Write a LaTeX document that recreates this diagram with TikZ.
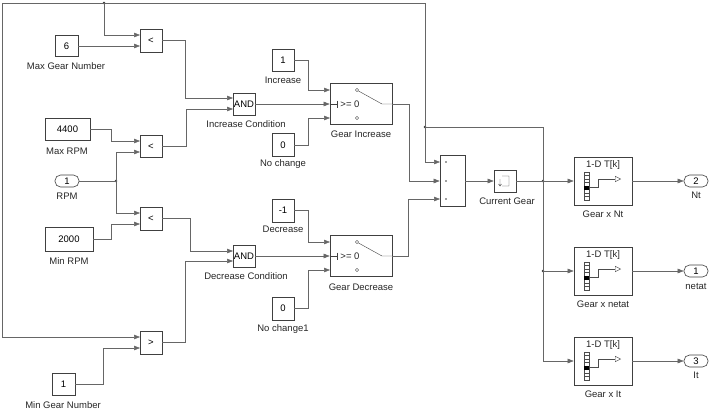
\documentclass[tikz,border=0pt]{standalone}
\usepackage{fontspec}
\setmainfont{Liberation Sans}
\usetikzlibrary{arrows.meta}
\tikzset{
	blk/.style = {draw=black!75, fill=white, inner sep=0pt, line width=0.6pt},
	port/.style = {blk, rounded corners=5.5pt, minimum width=24, minimum height=12},
	lbl/.style = {inner sep=0pt, text=black!85},
	wire/.style = {draw=black!60, line width=0.5pt},
	sig/.style = {wire, -{Triangle[length=6pt,width=4.5pt]}},
	jdot/.style = {circle, fill=black!80, inner sep=0pt, minimum size=2.6pt},
}
\begin{document}
\begin{tikzpicture}[x=1pt, y=-1pt, font=\fontsize{9.5}{11}\selectfont]
			\useasboundingbox (0,0) rectangle (709,410);
			% constants and inport
			\node[blk, minimum width=23, minimum height=21] (kMaxGear) at (66.5,46) {6};
			\node[lbl] (lMaxGear) at (66,66) {Max Gear Number};
			\node[blk, minimum width=45, minimum height=22] (kMaxRPM) at (67.5,129) {4400};
			\node[lbl] (lMaxRPM) at (67,151) {Max RPM};
			\node[port] (rpm) at (67,181) {1};
			\node[lbl] (lRpm) at (67,196) {RPM};
			\node[blk, minimum width=48, minimum height=24] (kMinRPM) at (69,239) {2000};
			\node[lbl] (lMinRPM) at (69,261) {Min RPM};
			\node[blk, minimum width=23, minimum height=22] (kMinGear) at (63.5,384) {1};
			\node[lbl] (lMinGear) at (63,405) {Min Gear Number};
			% relational operators
			\node[blk, minimum width=22, minimum height=23] (ltA) at (151,40.5) {<};
			\node[blk, minimum width=22, minimum height=22] (ltB) at (151,146.5) {<};
			\node[blk, minimum width=22, minimum height=23] (ltC) at (151,218.5) {<};
			\node[blk, minimum width=22, minimum height=23] (gtD) at (151,342.5) {>};
			\coordinate (ltA-in1) at (140,35); \coordinate (ltA-in2) at (140,46);
			\coordinate (ltB-in1) at (140,141); \coordinate (ltB-in2) at (140,152);
			\coordinate (ltC-in1) at (140,213); \coordinate (ltC-in2) at (140,224);
			\coordinate (gtD-in1) at (140,337); \coordinate (gtD-in2) at (140,348);
			% logic
			\node[blk, minimum width=22, minimum height=22] (andA) at (244,104) {AND};
			\node[lbl] (lAndA) at (246,124) {Increase Condition};
			\node[blk, minimum width=22, minimum height=22] (andB) at (244,256) {AND};
			\node[lbl] (lAndB) at (246,276) {Decrease Condition};
			\coordinate (andA-in1) at (233,98); \coordinate (andA-in2) at (233,109);
			\coordinate (andB-in1) at (233,251); \coordinate (andB-in2) at (233,261);
			% switch inputs
			\node[blk, minimum width=22, minimum height=22] (kInc) at (283,60) {1};
			\node[lbl] (lInc) at (283,80) {Increase};
			\node[blk, minimum width=22, minimum height=23] (kNoInc) at (283,145) {0};
			\node[lbl] (lNoInc) at (283,164) {No change};
			\node[blk, minimum width=22, minimum height=23] (kDec) at (283,210.5) {-1};
			\node[lbl] (lDec) at (283,229) {Decrease};
			\node[blk, minimum width=22, minimum height=23] (kNoDec) at (283,308.5) {0};
			\node[lbl] (lNoDec) at (283,329) {No change1};
			% switches
			\node[blk, minimum width=62, minimum height=41] (swInc) at (361,104) {};
			\node[lbl] (lSwInc) at (361,134) {Gear Increase};
			\node[blk, minimum width=62, minimum height=41] (swDec) at (361,256) {};
			\node[lbl] (lSwDec) at (361,287) {Gear Decrease};
			\coordinate (swInc-in1) at (330,90); \coordinate (swInc-in3) at (330,118);
			\coordinate (swDec-in1) at (330,242); \coordinate (swDec-in3) at (330,270);
			\foreach \s in {swInc,swDec} {
				\begin{scope}[shift={(\s.center)}]
					\draw[black!75] (-4,-14) circle (1.6) (-4,14) circle (1.6);
					\draw[black!75] (-2.5,-13) -- (21,0) -- (31,0);
					\draw[black!75] (-31,0) -- (-24,0) (-24,-3.5) -- (-24,3.5);
					\node[lbl] at (-11,0) {>= 0};
				\end{scope}
			}
			% sum and memory
			\node[blk, minimum width=25, minimum height=51] (sum) at (452.5,181) {};
			\coordinate (sum-in1) at (440,162); \coordinate (sum-in3) at (440,199);
			\foreach \yy in {162,181,199} \fill[black!75] (446,\yy) circle (0.8);
			\node[blk, minimum width=22, minimum height=22] (mem) at (505,181) {};
			\draw[black!75] (500,179) -- (500,186) (498.5,184) -- (500,186) -- (501.5,184)
				(502,186) -- (509,186) -- (509,176) -- (502,176);
			\node[lbl] (lMem) at (507,201) {Current Gear};
			% lookup tables
			\foreach \n/\yy/\t in {lutNt/181/Nt, lutNetat/271/netat, lutIt/361/It} {
				\node[blk, minimum width=58, minimum height=48] (\n) at (603,\yy) {};
				\node[lbl] at (603,\yy+33) {Gear x \t};
				\begin{scope}[shift={(\n.center)}]
					\node[lbl] at (0,-16) {1-D T[k]};
					\foreach \k in {0,...,7} \draw[black!70, line width=0.4pt] (-19,-9+\k*3.5) rectangle ++(5,3.5);
					\fill[black] (-19,5) rectangle ++(5,3.5);
					\draw[black!70, -{Triangle[open,length=6pt,width=6pt]}] (-14,6.5) -- (-5,6.5) -- (-5,-2) -- (18,-2);
				\end{scope}
			}
			\node[port] (outNt) at (696,181) {2};
			\node[lbl] (lOutNt) at (696,195) {Nt};
			\node[port] (outNetat) at (696,271) {1};
			\node[lbl] (lOutNetat) at (696,286) {netat};
			\node[port] (outIt) at (696,361) {3};
			\node[lbl] (lOutIt) at (696,375) {It};
			% junctions
			\node[jdot] (jTopL) at (104,3) {};
			\node[jdot] (jRpm) at (116,181) {};
			\node[jdot] (jTop) at (425,127) {};
			\node[jdot] (jOut) at (543,181) {};
			\node[jdot] (jNetat) at (543,271) {};
			% signals
			\draw[sig] (jTop.center) -- (425,3) -- (2,3) |- (gtD-in1);
			\draw[sig] (jTopL.center) |- (ltA-in1);
			\draw[sig] (kMaxGear.east) -- (ltA-in2);
			\draw[sig] (kMaxRPM.east) -- (111,129) |- (ltB-in1);
			\draw[wire] (rpm.east) -- (jRpm.center);
			\draw[sig] (jRpm.center) |- (ltB-in2);
			\draw[sig] (jRpm.center) |- (ltC-in1);
			\draw[sig] (kMinRPM.east) -- (111,239) |- (ltC-in2);
			\draw[sig] (kMinGear.east) -- (103,384) |- (gtD-in2);
			\draw[sig] (ltA.east) -- (185,40.5) |- (andA-in1);
			\draw[sig] (ltB.east) -- (186,146.5) |- (andA-in2);
			\draw[sig] (ltC.east) -- (190,218.5) |- (andB-in1);
			\draw[sig] (gtD.east) -- (185,342.5) |- (andB-in2);
			\draw[sig] (kInc.east) -- (308,60) |- (swInc-in1);
			\draw[sig] (andA.east) -- (swInc.west);
			\draw[sig] (kNoInc.east) -- (308,145) |- (swInc-in3);
			\draw[sig] (kDec.east) -- (308,210.5) |- (swDec-in1);
			\draw[sig] (andB.east) -- (swDec.west);
			\draw[sig] (kNoDec.east) -- (308,308.5) |- (swDec-in3);
			\draw[sig] (jTop.center) |- (sum-in1);
			\draw[sig] (swInc.east) -- (409,104) |- (sum.west);
			\draw[sig] (swDec.east) -- (408,256) |- (sum-in3);
			\draw[sig] (sum.east) -- (mem.west);
			\draw[wire] (mem.east) -- (jOut.center);
			\draw[wire] (jOut.center) |- (jTop.center);
			\draw[sig] (jOut.center) -- (lutNt.west);
			\draw[sig] (jOut.center) |- (lutNetat.west);
			\draw[sig] (jOut.center) |- (lutIt.west);
			\draw[sig] (lutNt.east) -- (outNt.west);
			\draw[sig] (lutNetat.east) -- (outNetat.west);
			\draw[sig] (lutIt.east) -- (outIt.west);
		\end{tikzpicture}
\end{document}
